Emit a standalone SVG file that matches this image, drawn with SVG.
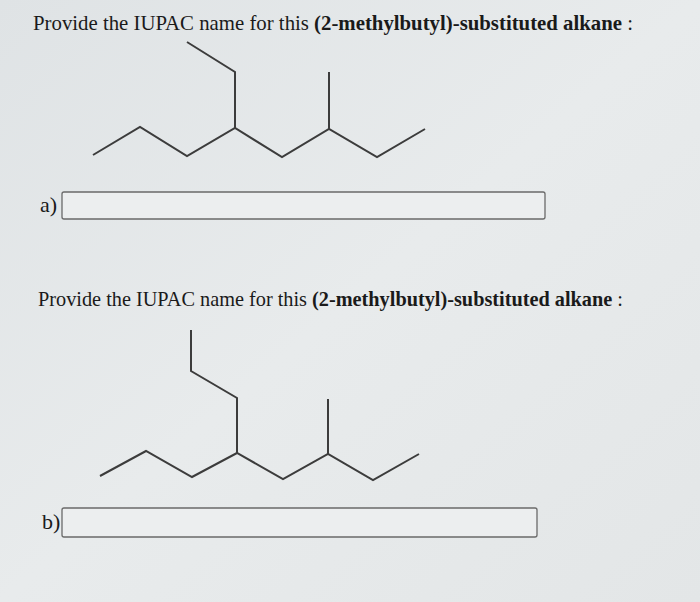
<svg xmlns="http://www.w3.org/2000/svg" width="700" height="602" viewBox="0 0 700 602">
<defs><linearGradient id="bg" x1="0" y1="0" x2="1" y2="1"><stop offset="0" stop-color="#dfe3e5"/><stop offset="0.5" stop-color="#e8ebec"/><stop offset="1" stop-color="#e3e6e7"/></linearGradient></defs>
<style>
.b{fill:none;stroke:#3c3c3c;stroke-width:2;stroke-linejoin:miter}
.box{fill:#eceeef;stroke:#6a6a6a;stroke-width:1.3}
.t{font-family:"Liberation Serif",serif;font-size:22px;fill:#1a1a1a}
.bold{font-weight:bold}
</style>
<rect width="700" height="602" fill="url(#bg)"/>
<text class="t" x="33" y="30" textLength="600" lengthAdjust="spacingAndGlyphs">Provide the IUPAC name for this <tspan class="bold">(2-methylbutyl)-substituted alkane</tspan> :</text>
<polyline class="b" points="93,155 140,127 187,156 235,128 282,157 329,129 377,157 425,129"/>
<polyline class="b" points="235,128 235,72 187,42"/>
<line class="b" x1="329" y1="129" x2="329" y2="72"/>
<text class="t" x="40" y="212" font-size="18">a)</text>
<rect class="box" x="62" y="192" width="483" height="27" rx="2"/>
<text class="t" x="38" y="306" textLength="585" lengthAdjust="spacingAndGlyphs">Provide the IUPAC name for this <tspan class="bold">(2-methylbutyl)-substituted alkane</tspan> :</text>
<polyline class="b" points="100,476 146,451 192,477 237,453 283,479 328,454 373,480 419,454"/>
<polyline class="b" points="237,453 237,398 191,371 191,330"/>
<line class="b" x1="328" y1="454" x2="328" y2="399"/>
<text class="t" x="42" y="529" font-size="18">b)</text>
<rect class="box" x="62" y="508" width="475" height="29" rx="2"/>
</svg>
